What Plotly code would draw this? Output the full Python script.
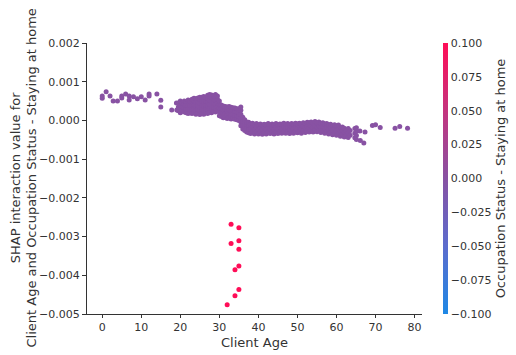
import numpy as np
import plotly.graph_objects as go

# ---- data (SHAP values in units of 1e-3) ----
# sparse points, occupation status = 0
sparse_age = [0.0, 0.0, 1.0, 2.0, 2.8, 3.9, 5.0, 5.0, 6.0, 6.9, 6.9, 8.0, 9.0, 10.0,
              11.0, 12.0, 12.0, 14.0, 15.0, 15.0, 17.8, 19.1, 19.0,
              66.0, 67.3, 66.1, 67.0, 69.2, 70.0, 71.2, 75.0, 76.2, 78.2]
sparse_shap_e3 = [0.63, 0.57, 0.74, 0.63, 0.50, 0.50, 0.63, 0.58, 0.68, 0.63, 0.53, 0.61, 0.56, 0.61,
                  0.53, 0.68, 0.63, 0.68, 0.52, 0.35, 0.27, 0.27, 0.45,
                  -0.27, -0.30, -0.52, -0.58, -0.13, -0.11, -0.18, -0.20, -0.16, -0.20]

# dense band, occupation status = 0 : one age per column, SHAP values in that column
dense_age = [19.5, 20.0, 20.5, 21.0, 21.5, 22.0, 22.5, 23.0, 23.5, 24.0, 24.5, 25.0, 25.5, 26.0,
             26.5, 27.0, 27.5, 28.0, 28.5, 29.0, 29.5, 30.0, 30.5, 31.0, 31.5, 32.0, 32.5, 33.0,
             33.5, 34.0, 34.5, 35.0, 35.5, 36.0, 36.5, 37.0, 37.5, 38.0, 38.5, 39.0, 39.5, 40.0,
             40.5, 41.0, 41.5, 42.0, 42.5, 43.0, 43.5, 44.0, 44.5, 45.0, 45.5, 46.0, 46.5, 47.0,
             47.5, 48.0, 48.5, 49.0, 49.5, 50.0, 50.5, 51.0, 51.5, 52.0, 52.5, 53.0, 53.5, 54.0,
             54.5, 55.0, 55.5, 56.0, 56.5, 57.0, 57.5, 58.0, 58.5, 59.0, 59.5, 60.0, 60.5, 61.0,
             61.5, 62.0, 62.5, 63.0, 63.5, 64.7, 65.1]
dense_shap_e3 = [
    [0.25, 0.35, 0.45], [0.20, 0.30, 0.40, 0.50], [0.25, 0.35, 0.45], [0.22, 0.32, 0.42, 0.50],
    [0.20, 0.30, 0.40, 0.48], [0.18, 0.28, 0.38, 0.48, 0.53], [0.20, 0.30, 0.40, 0.50],
    [0.18, 0.28, 0.38, 0.48, 0.55], [0.20, 0.30, 0.40, 0.50, 0.57], [0.16, 0.26, 0.36, 0.46, 0.56],
    [0.18, 0.28, 0.38, 0.48, 0.58], [0.15, 0.25, 0.35, 0.45, 0.55, 0.60], [0.20, 0.30, 0.40, 0.50, 0.60],
    [0.16, 0.26, 0.36, 0.46, 0.56, 0.62], [0.20, 0.30, 0.40, 0.50, 0.60],
    [0.18, 0.28, 0.38, 0.48, 0.58, 0.65], [0.22, 0.32, 0.42, 0.52, 0.62, 0.67],
    [0.20, 0.30, 0.40, 0.50, 0.60, 0.66], [0.24, 0.34, 0.44, 0.54, 0.64],
    [0.22, 0.32, 0.42, 0.52, 0.62, 0.67], [0.25, 0.35, 0.45, 0.55, 0.63],
    [0.12, 0.22, 0.32, 0.42, 0.50], [0.10, 0.20, 0.30, 0.40], [0.07, 0.17, 0.27, 0.37],
    [0.08, 0.18, 0.28, 0.36], [0.05, 0.15, 0.25, 0.35], [0.07, 0.17, 0.27, 0.36],
    [0.04, 0.14, 0.24, 0.34], [0.06, 0.16, 0.26, 0.33], [0.03, 0.13, 0.23, 0.32],
    [0.02, 0.12, 0.22, 0.30], [0.00, 0.10, 0.20, 0.30], [-0.14, -0.04, 0.06, 0.16, 0.26, 0.35],
    [-0.22, -0.12, -0.02, 0.08], [-0.26, -0.16, -0.06, 0.02], [-0.30, -0.20, -0.10, -0.04],
    [-0.32, -0.22, -0.12, -0.05], [-0.34, -0.22, -0.10], [-0.28, -0.16, -0.07],
    [-0.35, -0.23, -0.11], [-0.29, -0.17, -0.08], [-0.35, -0.23, -0.11], [-0.30, -0.18, -0.09],
    [-0.36, -0.24, -0.12], [-0.31, -0.19, -0.10], [-0.35, -0.23, -0.12], [-0.30, -0.18, -0.08],
    [-0.34, -0.22, -0.11], [-0.29, -0.17, -0.09], [-0.35, -0.23, -0.12], [-0.30, -0.18, -0.08],
    [-0.34, -0.22, -0.11], [-0.29, -0.17, -0.09], [-0.33, -0.21, -0.10], [-0.28, -0.16, -0.07],
    [-0.33, -0.21, -0.10], [-0.29, -0.17, -0.08], [-0.34, -0.22, -0.11], [-0.28, -0.16, -0.08],
    [-0.33, -0.21, -0.10], [-0.29, -0.17, -0.07], [-0.32, -0.20, -0.09], [-0.28, -0.16, -0.07],
    [-0.33, -0.21, -0.10], [-0.27, -0.15, -0.06], [-0.31, -0.19, -0.08], [-0.27, -0.15, -0.05],
    [-0.30, -0.18, -0.06], [-0.26, -0.14, -0.04], [-0.30, -0.18, -0.07], [-0.25, -0.13, -0.03],
    [-0.29, -0.17, -0.06], [-0.26, -0.14, -0.04], [-0.31, -0.19, -0.07], [-0.27, -0.15, -0.06],
    [-0.33, -0.21, -0.09], [-0.29, -0.17, -0.08], [-0.35, -0.23, -0.11], [-0.31, -0.19, -0.10],
    [-0.37, -0.25, -0.13], [-0.33, -0.21, -0.11], [-0.38, -0.26, -0.14], [-0.35, -0.23, -0.12],
    [-0.41, -0.29, -0.18], [-0.37, -0.25, -0.17], [-0.43, -0.31, -0.20], [-0.39, -0.27],
    [-0.44, -0.32, -0.21], [-0.38, -0.26], [-0.45, -0.33, -0.21], [-0.49, -0.39, -0.28, -0.19],
]

# outliers, occupation status = 1 (staying at home)
home_age = [33, 35, 33, 35, 35, 35, 34, 35, 34, 32]
home_shap_e3 = [-2.68, -2.77, -3.18, -3.11, -3.33, -3.76, -3.86, -4.37, -4.53, -4.76]

y_ticks = [0.002, 0.001, 0.0, -0.001, -0.002, -0.003, -0.004, -0.005]
x_ticks = [0, 10, 20, 30, 40, 50, 60, 70, 80]
cb_ticks = [0.1, 0.075, 0.05, 0.025, 0.0, -0.025, -0.05, -0.075, -0.1]

# ---- assemble ----
ages, vals, occ = [], [], []
for a, v in zip(sparse_age, sparse_shap_e3):
    ages.append(a); vals.append(v); occ.append(0)
for a, col in zip(dense_age, dense_shap_e3):
    for v in col:
        ages.append(a); vals.append(v); occ.append(0)
for a, v in zip(home_age, home_shap_e3):
    ages.append(a); vals.append(v); occ.append(1)
vals = np.array(vals) * 1e-3

colorscale = [[0.0, "rgb(30,136,229)"], [0.25, "rgb(92,108,205)"], [0.5, "rgb(136,82,163)"],
              [0.75, "rgb(196,52,126)"], [1.0, "rgb(255,13,87)"]]

ax_col = "#333333"
font = "DejaVu Sans"

fig = go.Figure(go.Scatter(
    x=ages, y=vals, mode="markers",
    marker=dict(size=5, color=occ, cmin=-0.1, cmax=0.1, colorscale=colorscale,
                line=dict(width=0),
                colorbar=dict(xref="container", yref="paper", x=443/516, xanchor="left",
                              y=0.5, yanchor="middle", len=1.0, lenmode="fraction",
                              thickness=5, thicknessmode="pixels", xpad=0, ypad=0,
                              outlinewidth=0, ticks="", tickvals=cb_ticks, tickformat=".3f",
                              tickfont=dict(size=11, color=ax_col, family=font),
                              title=dict(text="Occupation Status - Staying at home", side="right",
                                         font=dict(size=13, color=ax_col, family=font)))),
    showlegend=False, hoverinfo="skip"))

fig.update_layout(
    width=516, height=355, margin=dict(l=87, r=94, t=43, b=41),
    paper_bgcolor="white", plot_bgcolor="white",
    font=dict(family=font, color=ax_col),
    xaxis=dict(range=[-3.9, 81.9], tickvals=x_ticks, showgrid=False, zeroline=False,
               showline=True, linecolor=ax_col, linewidth=1, ticks="outside", ticklen=3,
               tickcolor=ax_col, tickfont=dict(size=11, color=ax_col)),
    yaxis=dict(range=[-0.005, 0.002], tickvals=y_ticks, tickformat=".3f", showgrid=False,
               zeroline=False, showline=True, linecolor=ax_col, linewidth=1, ticks="outside",
               ticklen=4, tickcolor=ax_col, tickfont=dict(size=11, color=ax_col)),
    annotations=[
        dict(text="Client Age", xref="paper", yref="paper", x=0.5, y=0, xanchor="center",
             yanchor="middle", yshift=-28, showarrow=False, font=dict(size=13, color=ax_col)),
        dict(text="SHAP interaction value for<br>Client Age and Occupation Status - Staying at home",
             xref="paper", yref="paper", x=0, y=0.5, xanchor="center", yanchor="middle",
             xshift=-64, textangle=-90, showarrow=False, font=dict(size=13, color=ax_col)),
    ],
)

fig.write_html("out.html")
